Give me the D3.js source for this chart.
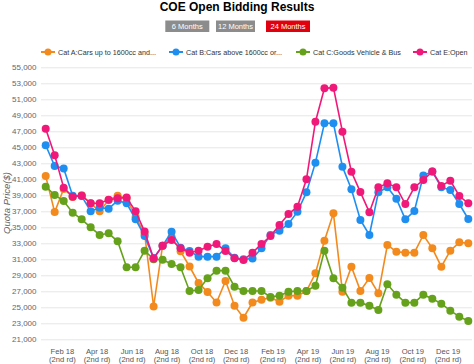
<!DOCTYPE html>
<html><head><meta charset="utf-8">
<script src="https://cdn.jsdelivr.net/npm/d3@7"></script>
<style>body{margin:0;background:#fff}svg{display:block}</style>
</head><body>
<svg id="c" width="474" height="364"></svg>
<script>
const title = "COE Open Bidding Results";
const buttons = ["6 Months", "12 Months", "24 Months"];
const activeButton = "24 Months";
const seriesNames = ["Cat A:Cars up to 1600cc and...", "Cat B:Cars above 1600cc or...", "Cat C:Goods Vehicle & Bus", "Cat E:Open"];
const seriesColors = ["#f28a1e", "#1f8ef1", "#65a11b", "#f0197a"];
const catA = [41400,36900,39800,38800,39000,38000,37000,38400,38950,38600,36300,34200,25100,32700,33800,32000,30100,28050,26900,25600,28300,25200,23700,25600,25950,26200,25700,26450,26450,27030,29250,33330,36750,26950,30080,27050,28660,26750,32790,31950,31830,31830,34040,32370,30080,32080,33120,33000];
const catB = [45250,42650,42350,38950,38900,37000,37450,37330,38330,38000,36000,33900,31150,32700,34450,32450,32040,31330,31330,31330,32370,31200,31000,31100,32370,34050,34580,35410,36950,39370,43080,48000,48000,42580,39750,35910,34040,39370,40000,38580,36000,37040,41460,41960,40000,39660,37910,36040];
const catC = [40080,39040,38290,36830,36000,35000,34040,34250,33250,30000,30000,32080,31000,30950,30410,30000,27040,27160,28620,29580,29580,27580,27040,27040,27040,26300,26450,26950,27030,27030,27700,32080,28620,27450,25580,25580,25200,24660,27870,26580,25580,25580,26580,26080,25450,24580,23830,23290];
const catE = [47330,44000,39950,38830,38950,38000,38000,38450,38620,38720,37000,34460,31100,32700,33410,32370,31830,32080,32580,32910,32040,31120,30910,31830,32910,33900,35290,36660,37580,41000,48200,52370,52450,46950,41950,39400,36870,40000,40500,40000,37910,40000,40910,41960,40160,40830,38910,38000];
const xTickLabels = ["Feb 18","Apr 18","Jun 18","Aug 18","Oct 18","Dec 18","Feb 19","Apr 19","Jun 19","Aug 19","Oct 19","Dec 19"];
const xTickSub = "(2nd rd)";
const xTickAt = [1.8,5.66,9.56,13.44,17.33,21.14,25.22,29.11,33.0,36.84,40.78,44.7];
const yTicks = [21000,23000,25000,27000,29000,31000,33000,35000,37000,39000,41000,43000,45000,47000,49000,51000,53000,55000];
const yTitle = "Quota Price($)";

const svg = d3.select("#c");
const font = "'Liberation Sans', Arial, sans-serif";
const x = d3.scaleLinear().domain([0, catA.length - 1]).range([45.7, 468.3]);
const y = d3.scaleLinear().domain([21000, 55000]).range([339.3, 67.3]);

// title
svg.append("text").attr("x", 237).attr("y", 11).attr("text-anchor", "middle")
  .attr("font-family", font).attr("font-weight", "bold").attr("font-size", 12).attr("fill", "#000").text(title);

// buttons
const btnBoxes = [[165.3, 44], [216, 39], [266, 44]];
buttons.forEach((b, i) => {
  const g = svg.append("g");
  g.append("rect").attr("x", btnBoxes[i][0]).attr("y", 20.5).attr("width", btnBoxes[i][1]).attr("height", 11.5)
    .attr("fill", b === activeButton ? "#e0000e" : "#8c8c8c");
  g.append("text").attr("x", btnBoxes[i][0] + btnBoxes[i][1] / 2).attr("y", 29.3).attr("text-anchor", "middle")
    .attr("font-family", font).attr("font-size", 7.5).attr("fill", "#fff").text(b);
});

// legend
const legX = [41, 169, 296, 413];
seriesNames.forEach((n, i) => {
  const g = svg.append("g");
  g.append("line").attr("x1", legX[i]).attr("x2", legX[i] + 14).attr("y1", 52).attr("y2", 52)
    .attr("stroke", seriesColors[i]).attr("stroke-width", 2);
  g.append("circle").attr("cx", legX[i] + 7).attr("cy", 52).attr("r", 3.5).attr("fill", seriesColors[i]);
  g.append("text").attr("x", legX[i] + 17).attr("y", 54.6).attr("font-family", font).attr("font-size", 7.2)
    .attr("fill", "#333").text(n);
});

// grid + y axis
const yAxis = d3.axisLeft(y).tickValues(yTicks).tickSize(-(472 - 41)).tickFormat(d3.format(","));
const ya = svg.append("g").attr("transform", "translate(41,0)").call(yAxis);
ya.select(".domain").remove();
ya.selectAll(".tick line").attr("stroke", "#e6e6e6").attr("stroke-width", 1);
ya.selectAll(".tick text").attr("x", -4.5).attr("dy", "0.32em").attr("font-family", font).attr("font-size", 8).attr("fill", "#666");

svg.append("text").attr("transform", "translate(10,203) rotate(-90)").attr("text-anchor", "middle")
  .attr("font-family", font).attr("font-style", "italic").attr("font-size", 9.5).attr("fill", "#666").text(yTitle);

// x axis labels
const xa = svg.append("g").attr("transform", "translate(0,339.3)")
  .call(d3.axisBottom(x).tickValues(xTickAt).tickSize(0).tickFormat((d, i) => xTickLabels[i]));
xa.select(".domain").remove();
xa.selectAll(".tick text").each(function(d, i) {
  const t = d3.select(this);
  t.text(null).attr("y", 0).attr("dy", null).attr("font-family", font).attr("font-size", 7.6).attr("fill", "#555");
  t.append("tspan").attr("x", 0).attr("y", 14.5).text(xTickLabels[i]);
  t.append("tspan").attr("x", 0).attr("y", 22.5).text(xTickSub);
});

// series
const allSeries = [catA, catB, catC, catE];
const line = d3.line().x((d, i) => x(i)).y(d => y(d));
allSeries.forEach((s, k) => {
  const g = svg.append("g");
  g.append("path").datum(s).attr("d", line).attr("fill", "none").attr("stroke", seriesColors[k]).attr("stroke-width", 1.6);
  g.selectAll("circle").data(s).join("circle").attr("cx", (d, i) => x(i)).attr("cy", d => y(d)).attr("r", 4)
    .attr("fill", seriesColors[k]);
});
</script>
</body></html>
